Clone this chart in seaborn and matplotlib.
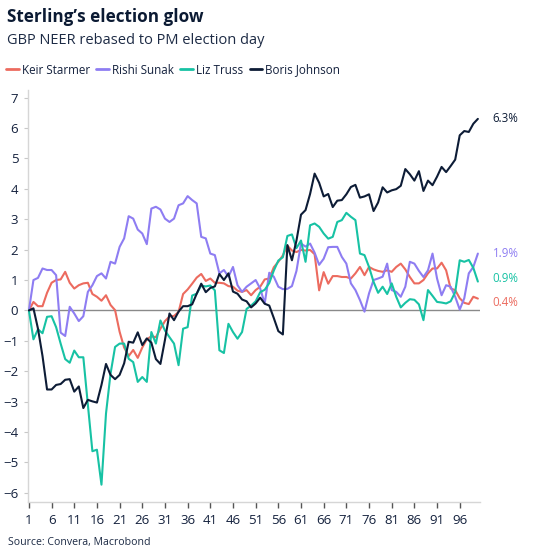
import numpy as np
import pandas as pd
import matplotlib
matplotlib.use('Agg')
import matplotlib.pyplot as plt
import seaborn as sns
from matplotlib.lines import Line2D

# --- Data: GBP NEER rebased to PM election day (%), trading days 1..100 ---
days = list(range(1, 101))

starmer = [0, 0.28, 0.14, 0.14, 0.58, 0.91, 1.0, 1.02, 1.27, 0.91,
           0.72, 0.83, 0.89, 0.91, 0.54, 0.45, 0.32, 0.5, 0.18, 0.01,
           -0.7, -1.22, -1.5, -1.3, -1.56, -1.22, -0.95, -0.85, -0.88, -0.6,
           -0.35, -0.2, -0.18, -0.05, 0.54, 0.69, 0.88, 1.08, 1.2, 0.97,
           1.05, 0.91, 0.91, 0.89, 0.8, 0.78, 0.65, 0.61, 0.67, 0.5,
           0.67, 0.78, 1.02, 1.05, 1.42, 1.6, 1.81, 2.13, 1.97, 1.92,
           1.99, 1.97, 1.99, 1.85, 0.66, 1.26, 0.88, 1.13, 1.13, 1.1,
           1.1, 1.05, 1.22, 1.43, 1.16, 1.43, 1.35, 1.3, 1.27, 1.32,
           1.27, 1.43, 1.54, 1.35, 1.1, 0.89, 0.89, 1.0, 1.22, 1.38,
           1.38, 1.57, 1.32, 0.72, 0.67, 0.4, 0.25, 0.21, 0.45, 0.39]

sunak = [0, 1.0, 1.07, 1.38, 1.33, 1.33, 1.16, -0.73, -0.84, 0.12,
         -0.1, -0.35, -0.19, 0.61, 0.83, 1.13, 1.22, 1.05, 1.6, 1.54,
         2.09, 2.37, 3.1, 3.02, 2.66, 2.53, 2.18, 3.35, 3.41, 3.32,
         3.02, 2.91, 3.02, 3.46, 3.52, 3.76, 3.63, 3.52, 2.42, 2.37,
         1.87, 1.82, 1.22, 1.33, 1.11, 1.43, 0.83, 0.61, 0.78, 0.89,
         1.0, 0.72, 0.23, 1.24, 1.11, 0.78, 0.7, 0.71, 0.8, 1.3,
         2.2, 2.1, 2.2, 1.9, 1.5, 1.7, 2.08, 2.09, 2.09, 1.76,
         1.54, 0.89, 0.67, 0.34, -0.04, 0.56, 1.0, 1.05, 1.11, 1.54,
         0.67, 0.61, 0.45, 0.78, 1.6, 1.54, 1.3, 1.1, 1.32, 1.87,
         1.05, 0.5, 0.83, 0.78, 0.45, 0.03, 0.4, 1.22, 1.43, 1.87]

truss = [0, -0.95, -0.62, -0.75, -0.21, -0.19, -0.55, -1.09, -1.6, -1.72,
         -1.32, -1.54, -1.54, -3.1, -4.63, -4.58, -5.73, -3.39, -2.08, -1.2,
         -1.09, -1.09, -1.59, -1.7, -2.35, -2.19, -2.35, -0.71, -1.09, -0.33,
         -0.66, -0.88, -1.09, -1.8, -0.6, -0.55, 0.49, 0.55, 0.82, 0.79,
         0.82, 0.66, -1.31, -1.4, -0.44, -0.71, -0.93, -0.71, 0.05, 0.16,
         0.3, 0.6, 0.68, 0.9, 1.31, 1.64, 1.75, 2.45, 2.5, 2.05,
         2.3, 1.6, 2.8, 2.86, 2.75, 2.53, 2.36, 2.42, 2.91, 2.97,
         3.21, 3.08, 2.97, 1.87, 1.82, 1.43, 0.94, 0.58, 0.78, 0.54,
         0.89, 0.45, 0.1, 0.25, 0.37, 0.35, 0.2, -0.32, 0.67, 0.48,
         0.28, 0.26, 0.23, 0.3, 0.6, 1.65, 1.6, 1.66, 1.4, 0.95]

johnson = [0, 0.07, -0.6, -1.5, -2.6, -2.6, -2.45, -2.42, -2.28, -2.26,
           -2.67, -2.5, -3.21, -2.94, -2.99, -3.03, -2.45, -1.76, -2.12, -2.26,
           -2.12, -1.74, -1.03, -1.06, -0.72, -1.14, -0.92, -1.06, -1.6, -1.76,
           -0.97, -0.1, -0.32, -0.04, 0.14, 0.14, 0.2, 0.55, 0.88, 0.6,
           0.74, 0.79, 1.2, 1.0, 1.22, 0.62, 0.55, 0.36, 0.3, 0.1,
           0.23, 0.42, 0.22, 0.16, -0.25, -0.68, -0.79, 2.15, 1.65, 2.3,
           3.15, 3.3, 3.83, 4.5, 4.2, 3.75, 3.83, 3.4, 3.61, 3.63,
           3.82, 4.06, 4.13, 3.71, 3.75, 3.82, 3.27, 3.55, 4.05, 3.88,
           3.95, 3.99, 4.1, 4.65, 4.48, 4.27, 4.58, 3.93, 4.27, 4.12,
           4.4, 4.72, 4.55, 4.75, 4.96, 5.76, 5.9, 5.87, 6.14, 6.3]

pm_names = ['Keir Starmer', 'Rishi Sunak', 'Liz Truss', 'Boris Johnson']
pm_colors = ['#ec6b5f', '#8e7df2', '#17c2a4', '#0d1c36']
end_labels = ['0.4%', '1.9%', '0.9%', '6.3%']
end_label_y = [0.25, 1.87, 1.05, 6.3]   # nudged so labels don't collide
x_ticks = list(range(1, 100, 5))
y_ticks = list(range(-6, 8))

# --- Build long frame for seaborn ---
series = [starmer, sunak, truss, johnson]
df = pd.concat([pd.DataFrame({'day': days, 'value': s, 'pm': n})
                for s, n in zip(series, pm_names)], ignore_index=True)

sns.set_theme(style='white')
plt.rcParams['font.family'] = ['Open Sans', 'DejaVu Sans']

navy = '#14213d'
fig = plt.figure(figsize=(5.49, 5.58), dpi=100)
ax = fig.add_axes([28 / 549, 56 / 558, 452 / 549, 412 / 558])

ax.axhline(0, color='#8a8a8a', lw=1.0, zorder=1)
sns.lineplot(data=df, x='day', y='value', hue='pm', hue_order=pm_names,
             palette=pm_colors, linewidth=1.5, legend=False, ax=ax, zorder=3)

ax.set_xlim(0.8, 100.47)
ax.set_ylim(-6.3, 7.25)
ax.set_xticks(x_ticks)
ax.set_yticks(y_ticks)
ax.set_xlabel('')
ax.set_ylabel('')
ax.tick_params(axis='x', direction='out', length=4, width=1, color='#555555',
               labelsize=9.5, labelcolor=navy, pad=5, bottom=True)
ax.tick_params(axis='y', direction='out', length=3, width=0.8, color='#c8c8c8',
               labelsize=9.5, labelcolor=navy, pad=4, left=True)
for side in ['top', 'right']:
    ax.spines[side].set_visible(False)
for side in ['left', 'bottom']:
    ax.spines[side].set_color('#d6d6d6')
    ax.spines[side].set_linewidth(1.0)

# end-of-line value labels
for lab, yv, col in zip(end_labels, end_label_y, pm_colors):
    ax.text(103.3, yv, lab, color=col, fontsize=8.3, va='center', ha='left',
            clip_on=False)

# titles
fig.text(7 / 549, 1 - 8 / 558, 'Sterling’s election glow', fontsize=12.3,
         fontweight='bold', color='#0b1a33', va='top', ha='left')
fig.text(7 / 549, 1 - 33 / 558, 'GBP NEER rebased to PM election day', fontsize=10.5,
         color='#1d2b45', va='top', ha='left')

handles = [Line2D([0], [0], color=c, lw=2) for c in pm_colors]
fig.legend(handles, pm_names, loc='center left', bbox_to_anchor=(6 / 549, 1 - 70 / 558),
           ncol=4, frameon=False, fontsize=8.4, handlelength=1.1, handletextpad=0.25,
           columnspacing=0.55, borderpad=0, borderaxespad=0, labelcolor=navy)

fig.text(8 / 549, 1 - 542 / 558, 'Source: Convera, Macrobond', fontsize=7.6,
         color='#1d2b45', va='center', ha='left')

fig.savefig('out.png', dpi=100)
